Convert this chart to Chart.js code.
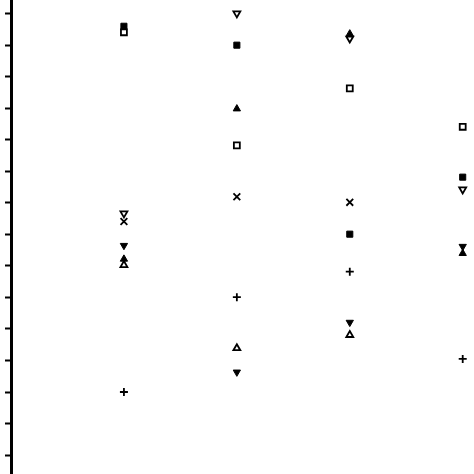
<!DOCTYPE html>
<html>
<head>
<meta charset="utf-8">
<script src="https://cdn.jsdelivr.net/npm/chart.js@4.4.1/dist/chart.umd.min.js"></script>
<style>
html,body{margin:0;padding:0;background:#fff;}
#wrap{width:474px;height:474px;}
</style>
</head>
<body>
<div id="wrap"><canvas id="c"></canvas></div>
<script>
// Column positions (x categories)
const categories = [1, 2, 3, 4];
// Y tick values (no labels are printed in the reference)
const tickValues = [0,1,2,3,4,5,6,7,8,9,10,11,12,13,14];

// Series values per column (arbitrary units, one unit per tick interval)
const filledSquare = [13.61, 13.01, 7.01, 8.82];
const openSquare   = [13.42, 9.83, 11.64, 10.42];
const openDown     = [7.67, 14.02, 13.22, 8.43];
const crossX       = [7.41, 8.20, 8.02, null];
const filledDown   = [6.65, 2.63, 4.21, 6.62];
const filledUp     = [6.22, 10.99, 13.37, 6.40];
const openUp       = [6.03, 3.39, 3.81, null];
const plusSign     = [2.00, 5.01, 5.82, 3.05];

function pts(vals){
  return categories.map((c,i)=>({x:c, y:vals[i]})).filter(p=>p.y!==null);
}
function ds(label, vals, style, filled, radius, rotation){
  return {
    label, data: pts(vals), showLine:false,
    pointStyle: style, pointRadius: radius, pointHoverRadius: radius,
    pointRotation: rotation||0,
    pointBackgroundColor: filled ? '#000' : '#fff',
    pointBorderColor: '#000', pointBorderWidth: filled ? 1 : 1.8,
    clip: false
  };
}

new Chart(document.getElementById('c'), {
  type: 'scatter',
  data: {
    datasets: [
      ds('openSquare', openSquare, 'rect', false, 4.2),
      ds('filledSquare', filledSquare, 'rect', true, 4.3),
      ds('crossX', crossX, 'crossRot', false, 4.8),
      ds('plus', plusSign, 'cross', false, 4),
      ds('openUp', openUp, 'triangle', false, 4),
      ds('filledDown', filledDown, 'triangle', true, 4.2, 180),
      ds('filledUp', filledUp, 'triangle', true, 4.2),
      ds('openDown', openDown, 'triangle', false, 4, 180)
    ]
  },
  options: {
    responsive: true, maintainAspectRatio: false, animation: false,
    layout: { autoPadding: false, padding: { left: 5, right: 0, top: 0, bottom: 0 } },
    plugins: { legend: { display: false }, tooltip: { enabled: false } },
    scales: {
      x: { type: 'linear', min: 0, max: 4.1, display: false },
      y: {
        type: 'linear', min: -0.603, max: 14.444,
        afterBuildTicks: (s) => { s.ticks = tickValues.map(v => ({ value: v })); },
        ticks: { display: false },
        grid: { drawOnChartArea: false, drawTicks: true, tickLength: 6, tickWidth: 2, tickColor: '#000', color: '#000' },
        border: { display: true, color: '#000', width: 3 }
      }
    }
  }
});
</script>
</body>
</html>
